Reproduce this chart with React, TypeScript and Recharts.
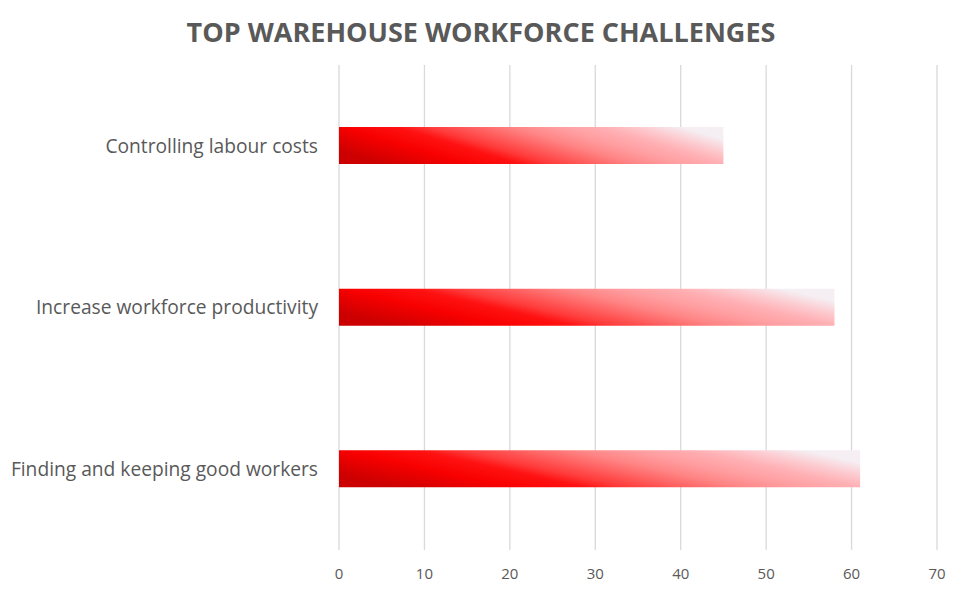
import React from "react";
import { BarChart, Bar, XAxis, YAxis, CartesianGrid } from "recharts";

const categories = [
  "Controlling labour costs",
  "Increase workforce productivity",
  "Finding and keeping good workers",
];
const values = [45, 58, 61];
const xTicks = [0, 10, 20, 30, 40, 50, 60, 70];
const title = "TOP WAREHOUSE WORKFORCE CHALLENGES";

const data = categories.map((name, i) => ({ name, value: values[i] }));

const FONT = "'Open Sans', 'DejaVu Sans', sans-serif";

export default function App() {
  return (
    <div style={{ position: "absolute", left: 0, top: 0, width: 962, height: 590, background: "#fff", fontFamily: FONT }}>
      <div
        style={{
          position: "absolute",
          left: 0,
          top: 12,
          width: 962,
          textAlign: "center",
          fontSize: 27,
          fontWeight: 700,
          color: "#595959",
          lineHeight: "40px",
        }}
      >
        {title}
      </div>
      <BarChart
        width={962}
        height={590}
        data={data}
        layout="vertical"
        margin={{ top: 65, right: 25, bottom: 0, left: 0 }}
        barSize={37}
      >
        <defs>
          <linearGradient id="barGrad" x1="0" y1="0.66" x2="1" y2="0.34">
            <stop offset="0" stopColor="#cc0000" />
            <stop offset="0.2" stopColor="#f80000" />
            <stop offset="0.33" stopColor="#ff1212" />
            <stop offset="0.4" stopColor="#ff3a3a" />
            <stop offset="0.5" stopColor="#ff6060" />
            <stop offset="0.6" stopColor="#ff8585" />
            <stop offset="0.7" stopColor="#ff9da0" />
            <stop offset="0.81" stopColor="#ffb0b4" />
            <stop offset="0.9" stopColor="#fccbd0" />
            <stop offset="1" stopColor="#f5eef2" />
          </linearGradient>
        </defs>
        <CartesianGrid horizontal={false} stroke="#d9d9d9" strokeWidth={1.3} />
        <XAxis
          type="number"
          domain={[0, 70]}
          ticks={xTicks}
          axisLine={false}
          tickLine={false}
          tickSize={0}
          tickMargin={18}
          height={40}
          tick={{ fill: "#595959", fontSize: 15, fontFamily: FONT }}
        />
        <YAxis
          type="category"
          dataKey="name"
          width={339}
          axisLine={false}
          tickLine={false}
          tickSize={0}
          tickMargin={21}
          tick={{ fill: "#595959", fontSize: 19.2, fontFamily: FONT }}
        />
        <Bar dataKey="value" fill="url(#barGrad)" isAnimationActive={false} />
      </BarChart>
    </div>
  );
}
